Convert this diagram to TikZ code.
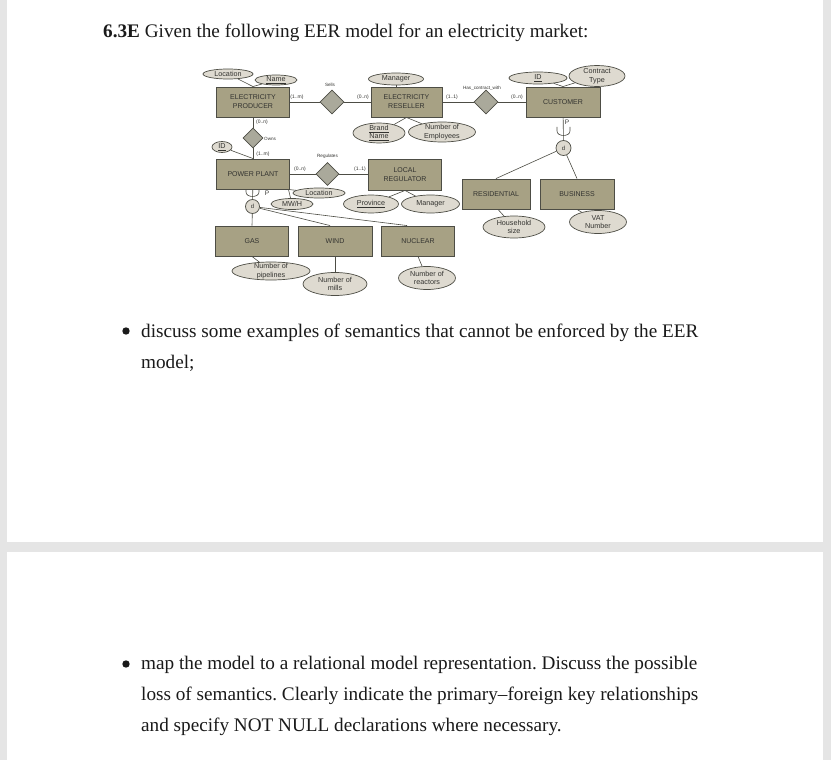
\documentclass[tikz,border=0pt]{standalone}
\usepackage{fontspec}
\setmainfont{Liberation Serif}
\setsansfont{Liberation Sans}
\usepackage{xcolor}
\definecolor{cPage}{HTML}{E5E5E5}
\definecolor{cEnt}{HTML}{A7A184}
\definecolor{cAttr}{HTML}{DEDAD0}
\definecolor{cRel}{HTML}{AAA99B}
\definecolor{cLine}{HTML}{4D4D45}
\definecolor{cInk}{HTML}{333330}
\definecolor{cText}{HTML}{1A1A1A}
\usetikzlibrary{positioning,shapes.geometric}
\frenchspacing
\tikzset{
  ent-box/.style={draw=cLine,fill=cEnt,line width=0.9pt,minimum width=73pt,
    minimum height=30pt,inner sep=1pt,align=center,text=cInk,
    font=\sffamily\fontsize{7}{9}\selectfont},
  attr/.style={draw=cLine,fill=cAttr,ellipse,line width=0.7pt,inner sep=0pt,
    align=center,text=cInk,font=\sffamily\fontsize{7.2}{8.6}\selectfont},
  rel/.style={draw=cLine,fill=cRel,diamond,line width=0.7pt,inner sep=0pt,
    minimum size=24pt},
  rel-name/.style={inner sep=0pt,text=cInk,font=\sffamily\fontsize{4.6}{5}\selectfont},
  card/.style={inner sep=0pt,text=cInk,font=\sffamily\fontsize{5}{6}\selectfont},
  disj/.style={draw=cLine,fill=cAttr,circle,line width=0.7pt,inner sep=0pt,
    minimum size=14pt,text=cInk,font=\sffamily\fontsize{6}{7}\selectfont},
  link/.style={draw=cLine,line width=0.6pt},
  body/.style={anchor=base west,inner sep=0pt,align=left,text=cText,
    font=\fontsize{19.2}{30.6}\selectfont},
  bullet/.style={circle,fill=cText,inner sep=0pt,minimum size=7.4pt},
}

\begin{document}
\begin{tikzpicture}[x=1pt,y=-1pt]
  \useasboundingbox (0,0) rectangle (831,760);
  % page panels
  \fill[cPage] (0,0) rectangle (831,760);
  \fill[white] (7,0) rectangle (823,542);
  \fill[white] (7,552) rectangle (823,760);

  % question text (base = last line)
  \node[body] (title) at (103,38) {\textbf{6.3E} Given the following EER model for an electricity market:};
  \node[bullet] (b1) at (126,331) {};
  \node[body] (q1) at (141,368) {discuss some examples of semantics that cannot be enforced by the EER\\model;};
  \node[bullet] (b2) at (126,664) {};
  \node[body] (q2) at (141,731) {map the model to a relational model representation. Discuss the possible\\loss of semantics. Clearly indicate the primary--foreign key relationships\\and specify NOT NULL declarations where necessary.};

  % entities
  \node[ent-box] (prod) at (253,102) {ELECTRICITY\\PRODUCER};
  \node[ent-box,minimum width=71pt] (res) at (406.5,102) {ELECTRICITY\\RESELLER};
  \node[ent-box,minimum width=74pt] (cust) at (563,102) {CUSTOMER};
  \node[ent-box] (pp) at (253,174) {POWER PLANT};
  \node[ent-box,minimum height=31pt] (reg) at (405,174.5) {LOCAL\\REGULATOR};
  \node[ent-box,minimum width=68pt] (resid) at (496,194) {RESIDENTIAL};
  \node[ent-box,minimum width=74pt] (bus) at (577,194) {BUSINESS};
  \node[ent-box] (gas) at (252,241) {GAS};
  \node[ent-box,minimum width=74pt] (wind) at (335,241) {WIND};
  \node[ent-box] (nuc) at (418,241) {NUCLEAR};

  % relationships
  \node[rel] (sells) at (332,102) {};
  \node[rel,minimum size=20pt] (owns) at (253,138) {};
  \node[rel] (hascon) at (486,102) {};
  \node[rel,minimum size=23pt] (regs) at (327.5,174) {};
  \node[rel-name] (sells-t) at (330,85) {Sells};
  \node[rel-name,anchor=west] (owns-t) at (264,139) {Owns};
  \node[rel-name] (hascon-t) at (482,88) {Has\_contract\_with};
  \node[rel-name] (regs-t) at (327.5,156) {Regulates};

  % cardinalities
  \node[card] (c1) at (297,97) {(1..m)};
  \node[card] (c2) at (363,97) {(0..n)};
  \node[card] (c3) at (452,97) {(1..1)};
  \node[card] (c4) at (517,97) {(0..n)};
  \node[card] (c5) at (262,122) {(0..n)};
  \node[card] (c6) at (263,154) {(1..m)};
  \node[card] (c7) at (300,169) {(0..n)};
  \node[card] (c8) at (360,169) {(1..1)};

  % attributes
  \node[attr,minimum width=50pt,minimum height=10pt] (prod-loc) at (228,74) {Location};
  \node[attr,minimum width=42pt,minimum height=10pt] (prod-name) at (276,80) {\underline{Name}};
  \node[attr,minimum width=55pt,minimum height=12pt] (res-mgr) at (396,79) {Manager};
  \node[attr,minimum width=52pt,minimum height=20pt,inner ysep=-1pt] (res-brand) at (379,133) {\underline{Brand}\\\underline{Name}};
  \node[attr,minimum width=67pt,minimum height=20pt,inner ysep=-1.5pt] (res-emp) at (442,132) {Number of\\Employees};
  \node[attr,minimum width=58pt,minimum height=12pt] (cust-id) at (538,78) {\underline{ID}};
  \node[attr,minimum width=56pt,minimum height=21pt,inner ysep=-1.5pt] (cust-ct) at (597,76) {Contract\\Type};
  \node[attr,minimum width=20pt,minimum height=11pt] (pp-id) at (222,147) {\underline{ID}};
  \node[attr,minimum width=52pt,minimum height=10pt] (pp-loc) at (319,193) {Location};
  \node[attr,minimum width=42pt,minimum height=11pt] (pp-mwh) at (292,204) {MW/H};
  \node[attr,minimum width=55pt,minimum height=18pt] (reg-prov) at (371,204) {\underline{Province}};
  \node[attr,minimum width=58pt,minimum height=18pt] (reg-mgr) at (430.5,204) {Manager};
  \node[attr,minimum width=62pt,minimum height=22pt,inner ysep=-1.5pt] (resid-hh) at (514,227) {Household\\size};
  \node[attr,minimum width=57pt,minimum height=23pt,inner ysep=-1.5pt] (bus-vat) at (598,222) {VAT\\Number};
  \node[attr,minimum width=78pt,minimum height=18pt,inner ysep=-1.5pt] (gas-pip) at (271,271) {Number of\\pipelines};
  \node[attr,minimum width=64pt,minimum height=23pt,inner ysep=-1.5pt] (wind-mill) at (335,284) {Number of\\mills};
  \node[attr,minimum width=57pt,minimum height=23pt,inner ysep=-1.5pt] (nuc-reac) at (427,278) {Number of\\reactors};

  % specialisation circles
  \node[disj] (pp-d) at (252.5,206.5) {d};
  \node[disj,minimum size=15pt] (cust-d) at (563.5,148) {d};
  \node[card,font=\sffamily\fontsize{6.5}{7}\selectfont] (pp-p) at (267,193) {P};
  \node[card,font=\sffamily\fontsize{6.5}{7}\selectfont] (cust-p) at (567,122) {P};

  % relationship links
  \draw[link] (prod) -- (sells);
  \draw[link] (sells) -- (res);
  \draw[link] (res) -- (hascon);
  \draw[link] (hascon) -- (cust);
  \draw[link] (prod) -- (owns);
  \draw[link] (owns) -- (pp);
  \draw[link] (pp.east |- regs) -- (regs);
  \draw[link] (regs) -- (reg.west |- regs);

  % attribute links
  \draw[link] (prod-loc) -- (prod.north);
  \draw[link] (prod-name) -- (prod.north);
  \draw[link] (res-mgr) -- (res-mgr |- res.north);
  \draw[link] (res-brand) -- (res.south);
  \draw[link] (res-emp) -- (res.south);
  \draw[link] (cust-id) -- (cust.north);
  \draw[link] (cust-ct) -- (cust.north);
  \draw[link] (pp-id) -- (pp.north);
  \draw[link] (pp-loc) -- ([xshift=-1.5pt]pp.south east);
  \draw[link] (pp-mwh) -- ([xshift=-1.5pt]pp.south east);
  \draw[link] (reg-prov) -- (reg.south);
  \draw[link] (reg-mgr) -- (reg.south);
  \draw[link] (resid-hh) -- ([xshift=2pt]resid.south);
  \draw[link] (bus-vat) -- (bus.south);
  \draw[link] (gas-pip) -- (gas.south);
  \draw[link] (wind-mill) -- (wind-mill |- wind.south);
  \draw[link] (nuc-reac) -- (nuc.south);

  % specialisations
  \draw[link] (cust) -- (cust-d);
  \draw[link] (cust-d) -- (resid.north);
  \draw[link] (cust-d) -- (bus.north);
  \draw[link] (pp) -- (pp-d);
  \draw[link] (pp-d) -- (gas.north);
  \draw[link] (pp-d) -- ([xshift=-5pt]wind.north);
  \draw[link] (pp-d) -- ([xshift=-11pt]nuc.north);
  \draw[link] (557,127) -- (557,131) .. controls (557,137) and (570,137) .. (570,131) -- (570,127);
  \draw[link] (246,189) -- (246,192) .. controls (246,198) and (259,198) .. (259,192) -- (259,189);
\end{tikzpicture}
\end{document}
